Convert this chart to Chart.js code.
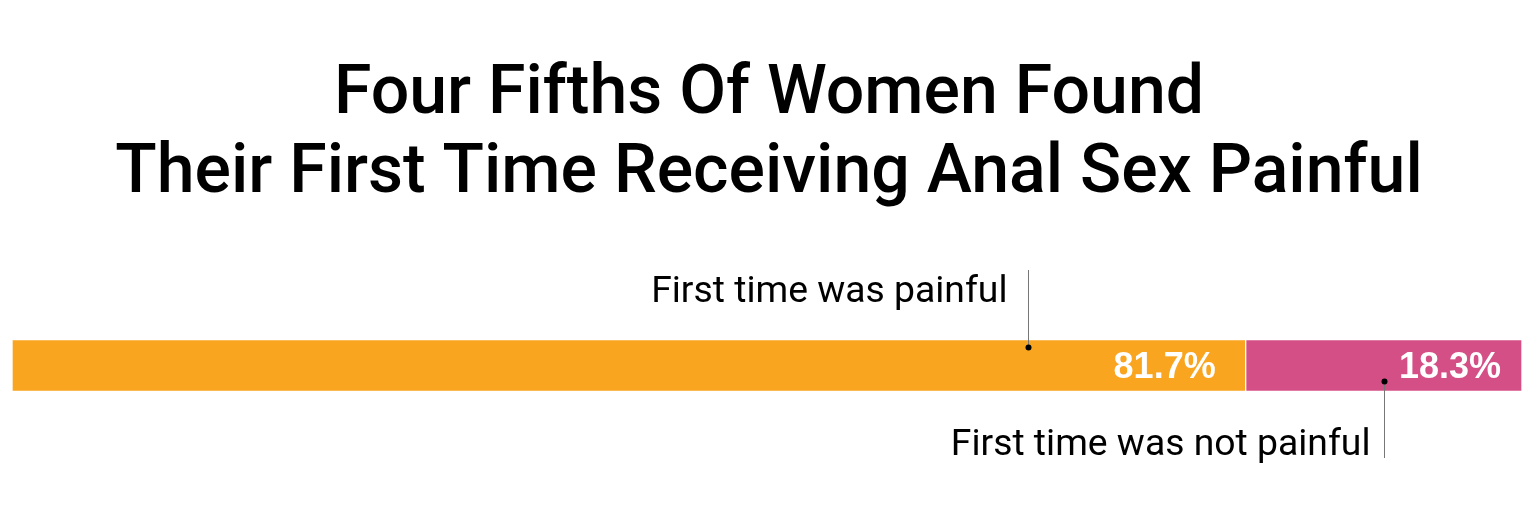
<!DOCTYPE html>
<html>
<head>
<meta charset="utf-8">
<script src="https://cdn.jsdelivr.net/npm/chart.js@4"></script>
<style>
html,body{margin:0;padding:0;background:#fff;}
#wrap{width:1536px;height:524px;position:relative;}
</style>
</head>
<body>
<div id="wrap"><canvas id="c" width="1536" height="524"></canvas></div>
<script>
const titleLines = ["Four Fifths Of Women Found", "Their First Time Receiving Anal Sex Painful"];
const categories = ["Women"];
const seriesNames = ["First time was painful", "First time was not painful"];
const painfulValues = [81.7];
const notPainfulValues = [18.3];
const seriesColors = ["#F9A51F", "#D44F86"];

const annotPlugin = {
  id: 'annot',
  afterDraw(chart) {
    const ctx = chart.ctx;
    const xs = chart.scales.x;
    const W = chart.width;
    ctx.save();
    // title
    ctx.fillStyle = '#000';
    ctx.textAlign = 'center';
    ctx.textBaseline = 'alphabetic';
    ctx.font = '500 68px Roboto';
    ctx.fillText(titleLines[0], W/2 + 1, 113);
    ctx.fillText(titleLines[1], W/2 + 1, 192);

    const meta0 = chart.getDatasetMeta(0).data[0];
    const meta1 = chart.getDatasetMeta(1).data[0];
    const top = meta0.y - meta0.height/2;
    const bot = meta0.y + meta0.height/2;

    // value labels
    ctx.fillStyle = '#fff';
    ctx.font = 'bold 36px "Liberation Sans", Arial, sans-serif';
    ctx.textAlign = 'right';
    ctx.textBaseline = 'alphabetic';
    ctx.fillText(painfulValues[0].toFixed(1) + '%', meta0.x - 30, 378);
    ctx.fillText(notPainfulValues[0].toFixed(1) + '%', meta1.x - 21, 378);

    // annotation 1 (above)
    const ax1 = Math.round(xs.getPixelForValue(67.3)) + 0.5;
    ctx.strokeStyle = '#777';
    ctx.lineWidth = 1;
    ctx.beginPath(); ctx.moveTo(ax1, 270); ctx.lineTo(ax1, top + 8); ctx.stroke();
    ctx.fillStyle = '#000';
    ctx.beginPath(); ctx.arc(ax1, top + 8, 3, 0, Math.PI*2); ctx.fill();
    ctx.fillStyle = '#000';
    ctx.font = '37.3px Roboto';
    ctx.textAlign = 'right';
    ctx.textBaseline = 'alphabetic';
    ctx.fillText(seriesNames[0], ax1 - 21, 302);

    // annotation 2 (below)
    const ax2 = Math.round(xs.getPixelForValue(painfulValues[0] + notPainfulValues[0]/2)) + 0.5;
    ctx.strokeStyle = '#777';
    ctx.beginPath(); ctx.moveTo(ax2, bot - 10); ctx.lineTo(ax2, 458); ctx.stroke();
    ctx.fillStyle = '#000';
    ctx.beginPath(); ctx.arc(ax2, bot - 10, 3, 0, Math.PI*2); ctx.fill();
    ctx.fillText(seriesNames[1], ax2 - 14, 455);
    ctx.restore();
  }
};

new Chart(document.getElementById('c'), {
  type: 'bar',
  data: {
    labels: categories,
    datasets: [
      { label: seriesNames[0], data: painfulValues, backgroundColor: seriesColors[0], borderColor: 'rgba(255,255,255,0.9)', borderWidth: 1, borderSkipped: false, barThickness: 52 },
      { label: seriesNames[1], data: notPainfulValues, backgroundColor: seriesColors[1], borderColor: 'rgba(255,255,255,0.9)', borderWidth: 1, borderSkipped: false, barThickness: 52 }
    ]
  },
  options: {
    indexAxis: 'y',
    responsive: false,
    animation: false,
    devicePixelRatio: 1,
    layout: { padding: { left: 12, right: 14, top: 240, bottom: 33 } },
    plugins: { legend: { display: false }, tooltip: { enabled: false }, title: { display: false } },
    scales: {
      x: { stacked: true, min: 0, max: 100, display: false },
      y: { stacked: true, display: false }
    }
  },
  plugins: [annotPlugin]
});
</script>
</body>
</html>
